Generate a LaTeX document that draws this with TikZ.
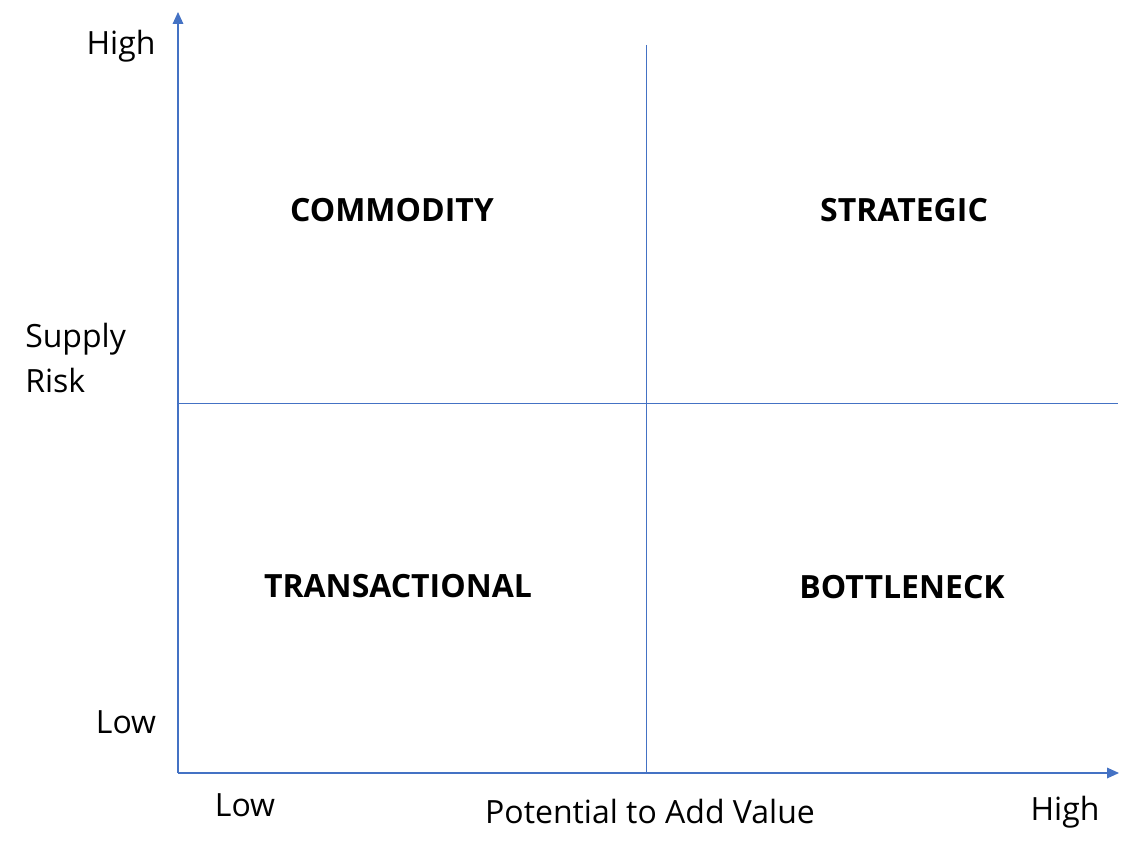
\documentclass[tikz,border=0pt]{standalone}
\usepackage{fontspec}
\setmainfont{Open Sans}
\usetikzlibrary{arrows.meta}
\definecolor{axisblue}{HTML}{4472C4}
\tikzset{every node/.style={inner sep=0pt,anchor=base,font=\fontsize{24}{33.75}\selectfont},
  quadrant/.style={font=\fontsize{24}{29}\selectfont\bfseries},
  axisline/.style={draw=axisblue,line width=0.9pt,-{Triangle[length=9pt,width=8pt]}},
  divider/.style={draw=axisblue,line width=0.7pt}}

\begin{document}
\begin{tikzpicture}[x=0.75pt,y=-0.75pt]
      \useasboundingbox (0,0) rectangle (1131,856);
      \coordinate (O) at (178,773);
      \coordinate (Ytop) at (178,12);
      \coordinate (Xend) at (1119,773);
      \coordinate (Vtop) at (646,45);
      \coordinate (Vbot) at (646,773);
      \coordinate (Hleft) at (178,403);
      \coordinate (Hright) at (1118,403);

      \node (yhigh) at (121,55) {High};
      \node (ylow) at (126,733) {Low};
      \node[anchor=base west,align=left] (ylabel) at (25,392) {Supply\\Risk};
      \node (xlow) at (245,816) {Low};
      \node (xlabel) at (650,823) {Potential to Add Value};
      \node (xhigh) at (1065,820) {High};

      \node[quadrant] (commodity) at (392,221) {COMMODITY};
      \node[quadrant] (strategic) at (904,221) {STRATEGIC};
      \node[quadrant] (transactional) at (398,597) {TRANSACTIONAL};
      \node[quadrant] (bottleneck) at (902,598) {BOTTLENECK};

      \draw[divider] (Vtop) -- (Vbot);
      \draw[divider] (Hleft) -- (Hright);
      \draw[axisline] (O) -- (Ytop);
      \draw[axisline] (O) -- (Xend);
    \end{tikzpicture}
\end{document}
